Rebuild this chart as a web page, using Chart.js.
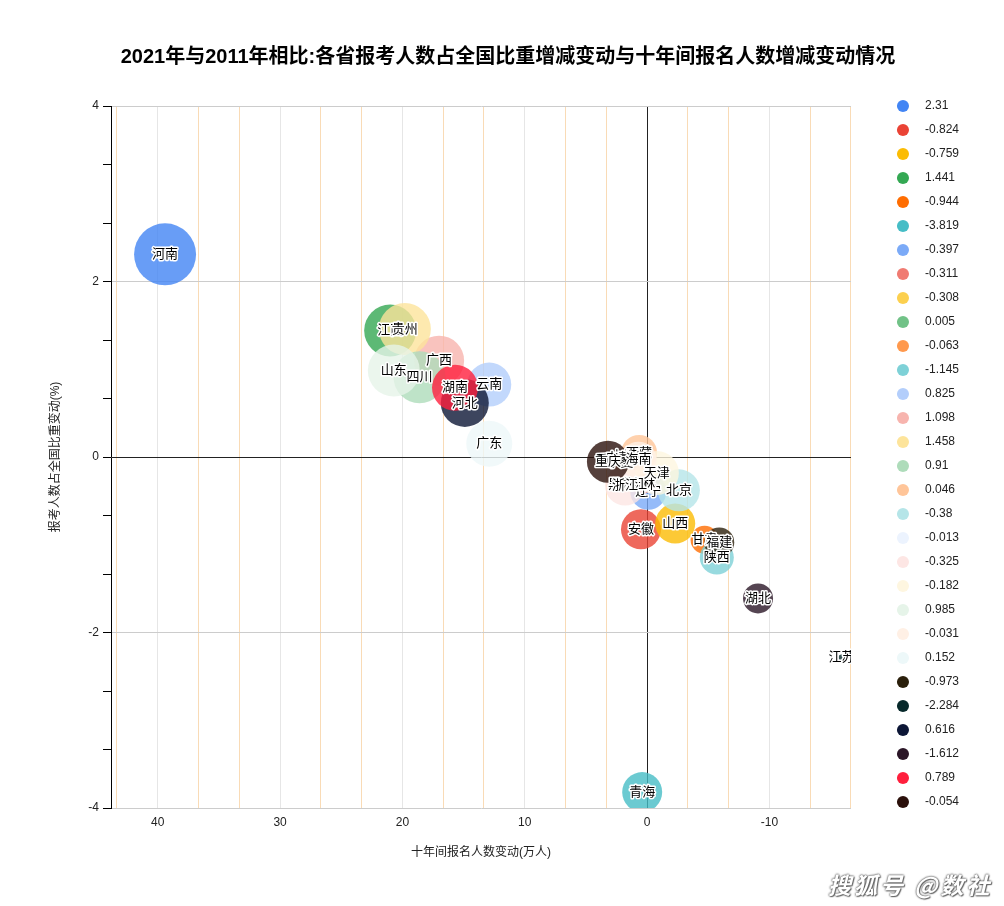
<!DOCTYPE html>
<html>
<head>
    <meta charset="utf-8">
    <title>各省报考人数占全国比重变动</title>
    <script src="https://cdn.jsdelivr.net/npm/chart.js"></script>
    <style>
        body {
            margin: 0;
            background: #ffffff;
        }

        #wrap {
            position: relative;
            width: 1004px;
            height: 906px;
        }

        #mark {
            position: absolute;
            left: 828px;
            top: 867px;
            font-family: 'Noto Sans CJK SC', sans-serif;
            font-size: 23px;
            font-weight: bold;
            font-style: italic;
            color: #ffffff;
            text-shadow: 0 0 2px #555, 0 0 2px #555, 1px 1px 1px #777;
            letter-spacing: 3px;
        }
    </style>
</head>
<body>
<div id="wrap">
    <canvas id="chart" width="1004" height="906"></canvas>
    <div id="mark">搜狐号 @数社</div>
</div>

<script>
    // province names, in legend order
    var provinces = ['河南', '安徽', '山西', '江西', '甘肃', '青海', '辽宁', '吉林', '黑龙江', '上海',
        '宁夏', '陕西', '云南', '广西', '贵州', '四川', '西藏', '北京', '内蒙古', '浙江',
        '天津', '山东', '海南', '广东', '福建', '江苏', '河北', '湖北', '湖南', '重庆'];

    // change of share of national registrants (%), y axis
    var shareChange = [2.31, -0.824, -0.759, 1.441, -0.944, -3.819, -0.397, -0.311, -0.308, 0.005,
        -0.063, -1.145, 0.825, 1.098, 1.458, 0.91, 0.046, -0.38, -0.013, -0.325,
        -0.182, 0.985, -0.031, 0.152, -0.973, -2.284, 0.616, -1.612, 0.789, -0.054];

    // change of registrants over ten years (10k people), x axis
    var countChange = [39.4, 0.5, -2.3, 21.0, -4.7, 0.4, -0.1, 0.4, 1.6, 1.9,
        2.2, -5.7, 12.9, 17.0, 19.8, 18.6, 0.65, -2.6, 1.8, 1.8,
        -0.8, 20.7, 0.7, 12.9, -5.9, -15.9, 14.9, -9.07, 15.7, 3.2];

    // bubble radius as drawn
    var bubbleRadius = [31, 20, 20, 26, 14, 20, 18, 10, 8, 8,
        8, 17, 22, 25, 26, 26, 18, 21, 10, 20,
        22, 26, 18, 23, 15, 3, 24, 15, 23, 21];

    var colors = ['#4285F4', '#EA4335', '#FBBC04', '#34A853', '#FF6D01', '#46BDC6', '#7BAAF7', '#F07B72', '#FCD04F', '#71C287',
        '#FF994D', '#7ED1D7', '#B3CEFB', '#F7B4AE', '#FDE49B', '#AEDCBA', '#FFC599', '#B5E5E8', '#ECF3FE', '#FDE6E4',
        '#FEF6E0', '#E6F4E9', '#FFF0E5', '#EDF8F9', '#2A1F0B', '#07292B', '#0C1636', '#2B1627', '#FF1F3D', '#2B100B'];

    var FONT = 'Arial, "Liberation Sans", "Noto Sans CJK SC", sans-serif';

    function withAlpha(hex, a) {
        var n = parseInt(hex.slice(1), 16);
        return 'rgba(' + (n >> 16) + ',' + ((n >> 8) & 255) + ',' + (n & 255) + ',' + a + ')';
    }

    var datasets = provinces.map(function (name, i) {
        return {
            label: String(shareChange[i]),
            data: [{x: countChange[i], y: shareChange[i], r: bubbleRadius[i]}],
            backgroundColor: withAlpha(colors[i], 0.8),
            borderWidth: 0,
            xAxisID: 'x',
            yAxisID: 'y',
            order: provinces.length - i // later series on top
        };
    });

    // names drawn on top of all bubbles, white halo
    var bubbleLabels = {
        id: 'bubbleLabels',
        afterDatasetsDraw: function (chart) {
            var ctx = chart.ctx;
            var area = chart.chartArea;
            ctx.save();
            ctx.beginPath();
            ctx.rect(area.left, area.top, area.right - area.left, area.bottom - area.top);
            ctx.clip();
            ctx.font = '13px ' + FONT;
            ctx.textAlign = 'center';
            ctx.textBaseline = 'middle';
            ctx.lineJoin = 'round';
            ctx.lineWidth = 3;
            ctx.strokeStyle = '#ffffff';
            ctx.fillStyle = '#000000';
            provinces.forEach(function (name, i) {
                var pt = chart.getDatasetMeta(i).data[0];
                ctx.strokeText(name, pt.x, pt.y);
                ctx.fillText(name, pt.x, pt.y);
            });
            ctx.restore();
        }
    };

    var isMultiple = function (v, step) {
        return Math.abs(v / step - Math.round(v / step)) < 1e-6;
    };

    new Chart(document.getElementById('chart'), {
        type: 'bubble',
        data: {datasets: datasets},
        options: {
            responsive: false,
            animation: false,
            layout: {padding: {left: 47, right: 35, top: 0, bottom: 0}},
            plugins: {
                title: {
                    display: true,
                    text: '2021年与2011年相比:各省报考人数占全国比重增减变动与十年间报名人数增减变动情况',
                    color: '#000',
                    font: {family: FONT, size: 20, weight: 'bold'},
                    padding: {top: 45, bottom: 37}
                },
                legend: {
                    position: 'right',
                    align: 'start',
                    title: {display: true, text: '', padding: {top: 0, bottom: 73.6}, font: {size: 12}},
                    labels: {
                        usePointStyle: true,
                        pointStyle: 'circle',
                        boxHeight: 8.5,
                        padding: 12,
                        color: '#222',
                        font: {family: FONT, size: 12},
                        sort: function (a, b) { return a.datasetIndex - b.datasetIndex; },
                        generateLabels: function (chart) {
                            return provinces.map(function (name, i) {
                                return {
                                    text: '   ' + shareChange[i],
                                    fillStyle: colors[i],
                                    strokeStyle: colors[i],
                                    fontColor: '#222',
                                    lineWidth: 0,
                                    pointStyle: 'circle',
                                    datasetIndex: i,
                                    hidden: false
                                };
                            });
                        }
                    }
                },
                tooltip: {enabled: false}
            },
            scales: {
                x: {
                    type: 'linear',
                    reverse: true,
                    min: -16.667,
                    max: 43.82,
                    afterBuildTicks: function (s) {
                        var t = [];
                        for (var k = -5; k <= 13; k++) t.push({value: k * 10 / 3});
                        s.ticks = t;
                    },
                    afterFit: function (s) {
                        s.height = 98;
                    },
                    border: {display: false},
                    grid: {
                        drawTicks: false,
                        color: function (c) {
                            var v = c.tick ? c.tick.value : 1;
                            if (Math.abs(v) < 1e-6) return '#222';
                            if (isMultiple(v, 10)) return '#e6e6e6';
                            return '#f9dbb6';
                        }
                    },
                    ticks: {
                        padding: 7,
                        color: '#222',
                        font: {family: FONT, size: 12},
                        autoSkip: false,
                        maxRotation: 0,
                        callback: function (v) {
                            return isMultiple(v, 10) ? String(Math.round(v)) : '';
                        }
                    },
                    title: {
                        display: true,
                        text: '十年间报名人数变动(万人)',
                        color: '#222',
                        font: {family: FONT, size: 12},
                        padding: {top: 0, bottom: 46}
                    }
                },
                y: {
                    type: 'linear',
                    min: -4,
                    max: 4,
                    afterBuildTicks: function (s) {
                        var t = [];
                        for (var k = -6; k <= 6; k++) t.push({value: k * 2 / 3});
                        s.ticks = t;
                    },
                    afterFit: function (s) {
                        s.width = 64;
                    },
                    border: {display: true, color: '#000', width: 1},
                    grid: {
                        tickLength: 8,
                        tickColor: '#000',
                        color: function (c) {
                            var v = c.tick ? c.tick.value : 1;
                            if (Math.abs(v) < 1e-6) return '#222';
                            if (isMultiple(v, 2)) return '#cccccc';
                            return 'rgba(0,0,0,0)';
                        }
                    },
                    ticks: {
                        padding: 4,
                        color: '#222',
                        font: {family: FONT, size: 12},
                        autoSkip: false,
                        callback: function (v) {
                            return isMultiple(v, 2) ? String(Math.round(v)) : '';
                        }
                    },
                    title: {
                        display: true,
                        text: '报考人数占全国比重变动(%)',
                        color: '#222',
                        font: {family: FONT, size: 12},
                        padding: {top: 1.5, bottom: 0}
                    }
                },
                // empty right-hand axis, only keeps a gap before the legend
                gap: {
                    type: 'linear',
                    position: 'right',
                    display: true,
                    grid: {display: false, drawTicks: false},
                    border: {display: false},
                    ticks: {display: false},
                    afterFit: function (s) {
                        s.width = 34;
                    }
                }
            }
        },
        plugins: [bubbleLabels]
    });
</script>
</body>
</html>
